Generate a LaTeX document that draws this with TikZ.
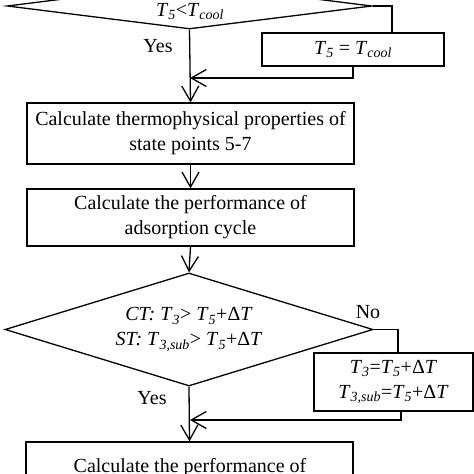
\documentclass[tikz,border=0pt]{standalone}
\usepackage{fontspec}
\setmainfont{Liberation Serif}
\usetikzlibrary{shapes.geometric,arrows.meta}
\newcommand{\Ti}[1]{\textit{T}\textsubscript{\textit{#1}}}
\begin{document}
\begin{tikzpicture}[x=1pt,y=-1pt,
  every node/.style={font=\fontsize{20}{25}\selectfont},
  ln/.style={line width=1.3pt},
  arr/.style={ln,-{Straight Barb[length=15pt,width=17pt,line width=1.3pt]}},
  boxx/.style={draw,ln,rectangle,inner sep=0pt,align=center},
  dia/.style={draw,ln,diamond,inner sep=0pt,align=center},
  lbl/.style={inner sep=0pt}]
\useasboundingbox (0,0) rectangle (474,474);
% top decision
\node[dia,aspect=7.9,minimum width=365pt,minimum height=46pt] (d1) at (189.5,6) {};
\node[lbl,anchor=base] (d1t) at (190,16) {\Ti{5}<\Ti{cool}};
\node[boxx,minimum width=182pt,minimum height=33pt] (b0) at (353,49.5) {\Ti{5} = \Ti{cool}};
\coordinate (x392) at (392,0);
\coordinate (m1) at (190,78);
\draw[ln] (d1.east) -| (b0.north -| x392);
\draw[arr] (b0.south) |- (m1);
\node[boxx,minimum width=327pt,minimum height=61pt] (b1) at (190.5,133.5)
  {Calculate thermophysical properties of\\state points 5-7};
\draw[arr] (d1.south) -- (b1.north);
\node[lbl] (yes1) at (158,46) {Yes};
\node[boxx,minimum width=327pt,minimum height=57pt] (b2) at (190.5,217.5)
  {Calculate the performance of\\adsorption cycle};
\draw[arr] (b1.south) -- (b2.north);
% second decision
\node[dia,aspect=3.26,minimum width=368pt,minimum height=113pt] (d2) at (189,329.5)
  {\textit{CT:} \Ti{3}> \Ti{5}+Δ\textit{T}\\\textit{ST:} \Ti{3,sub}> \Ti{5}+Δ\textit{T}};
\draw[arr] (b2.south) -- (d2.north);
\node[lbl] (no) at (368,312) {No};
\node[boxx,minimum width=159pt,minimum height=58pt] (b3) at (393.5,382)
  {\Ti{3}=\Ti{5}+Δ\textit{T}\\\Ti{3,sub}=\Ti{5}+Δ\textit{T}};
\coordinate (x398) at (398,0);
\coordinate (x401) at (401,0);
\coordinate (m2) at (190,420);
\draw[ln] (d2.east) -| (b3.north -| x398);
\draw[arr] (b3.south -| x401) |- (m2);
\node[lbl] (yes2) at (152,398) {Yes};
\node[boxx,minimum width=327pt,minimum height=68pt] (b4) at (189.5,476) {};
\node[lbl,anchor=base] (b4t) at (190,472) {Calculate the performance of};
\draw[arr] (d2.south) -- (b4.north);
\end{tikzpicture}
\end{document}
